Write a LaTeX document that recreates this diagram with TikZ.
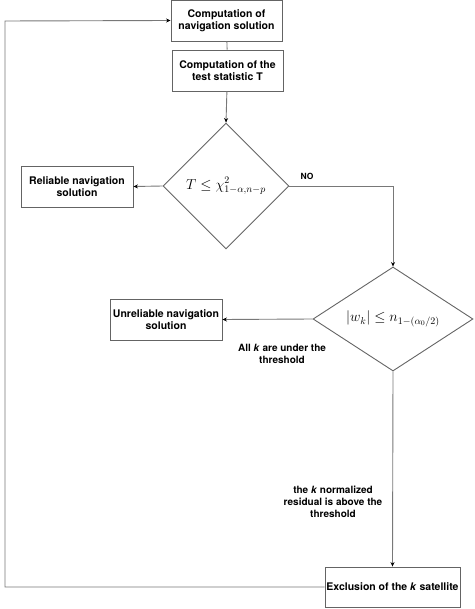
\documentclass[tikz,border=0pt]{standalone}
\usepackage[no-math]{fontspec}
\setmainfont{TeX Gyre Heros}
\usetikzlibrary{shapes.geometric,arrows.meta}
\definecolor{lin}{RGB}{120,120,120}
\definecolor{bor}{RGB}{100,100,100}
\begin{document}
\begin{tikzpicture}[x=1pt,y=-1pt,
  box/.style={draw=bor,line width=0.9pt,rectangle,inner sep=0pt,align=center,
    font=\fontsize{10.5}{12}\selectfont\bfseries,minimum width=112pt,minimum height=41pt},
  dia/.style={draw=bor,line width=0.9pt,diamond,inner sep=0pt,
    font=\fontsize{14.5}{16}\selectfont},
  conn/.style={draw=lin,line width=0.9pt},
  arr/.style={conn,-{Stealth[length=4.5pt,width=4pt,color=black]}},
  lbl/.style={align=center,font=\fontsize{10}{12}\selectfont\bfseries,inner sep=0pt}]
\useasboundingbox (0,0) rectangle (474,609);
\node[box,minimum width=111pt] (b1) at (226.5,20.5) {Computation of\\navigation solution};
\node[box,minimum width=111pt] (b2) at (227.5,70.5) {Computation of the\\test statistic T};
\node[dia,minimum width=126pt,minimum height=126pt] (d1) at (226,186) {$T\leq\chi^2_{1-\alpha,n-p}$};
\node[box] (rel) at (77,186.5) {Reliable navigation\\solution};
\node[dia,aspect=1.54,minimum width=160pt,minimum height=104pt] (d2) at (393,319) {$|w_k|\leq n_{1-(\alpha_0/2)}$};
\node[box] (unrel) at (166,319.5) {Unreliable navigation\\solution};
\node[box,minimum width=135pt,minimum height=40pt] (exc) at (392.5,587) {Exclusion of the \textit{k} satellite};
\coordinate (c1) at (393,186);
\coordinate (c2) at (5,587);
\coordinate (c3) at (5,21);
\draw[conn] (b1) -- (b2);
\draw[arr] (b2) -- (d1.north);
\draw[arr] (d1.west) -- (rel.east);
\draw[arr] (d1.east) -- (c1) -- (d2.north);
\node[lbl,font=\fontsize{8.5}{10}\selectfont\bfseries] (no) at (307,176) {NO};
\draw[arr] (d2.west) -- (unrel.east);
\node[lbl] (l1) at (282,354) {All \textit{k} are under the\\threshold};
\draw[arr] (d2.south) -- (exc.north);
\node[lbl] (l2) at (333,502) {the \textit{k} normalized\\residual is above the\\threshold};
\draw[arr] (exc.west) -- (c2) -- (c3) -- (b1.west);
\end{tikzpicture}
\end{document}
